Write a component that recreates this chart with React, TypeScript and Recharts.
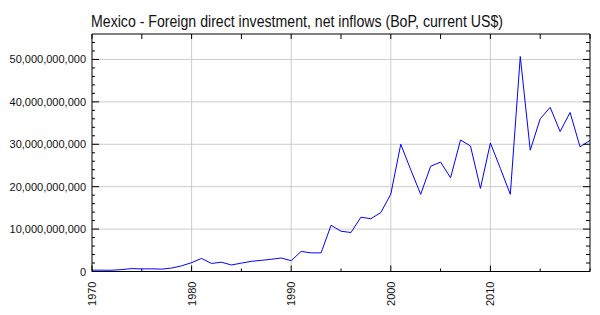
import React from "react";
import { LineChart, Line, XAxis, YAxis, CartesianGrid } from "recharts";

const title = "Mexico - Foreign direct investment, net inflows (BoP, current US$)";

const years = [
  1970, 1971, 1972, 1973, 1974, 1975, 1976, 1977, 1978, 1979,
  1980, 1981, 1982, 1983, 1984, 1985, 1986, 1987, 1988, 1989,
  1990, 1991, 1992, 1993, 1994, 1995, 1996, 1997, 1998, 1999,
  2000, 2001, 2002, 2003, 2004, 2005, 2006, 2007, 2008, 2009,
  2010, 2011, 2012, 2013, 2014, 2015, 2016, 2017, 2018, 2019, 2020,
];

const fdi = [
  0.32e9, 0.31e9, 0.30e9, 0.46e9, 0.68e9, 0.61e9, 0.63e9, 0.56e9, 0.82e9, 1.33e9,
  2.09e9, 3.08e9, 1.90e9, 2.19e9, 1.54e9, 1.98e9, 2.40e9, 2.63e9, 2.88e9, 3.18e9,
  2.55e9, 4.74e9, 4.39e9, 4.39e9, 10.9e9, 9.5e9, 9.19e9, 12.8e9, 12.45e9, 13.9e9,
  18.25e9, 30.0e9, 24.0e9, 18.2e9, 24.8e9, 25.8e9, 22.1e9, 31.0e9, 29.6e9, 19.6e9,
  30.3e9, 24.3e9, 18.2e9, 50.7e9, 28.6e9, 36.0e9, 38.7e9, 33.0e9, 37.5e9, 29.4e9, 30.9e9,
];

const xTicks = [1970, 1975, 1980, 1985, 1990, 1995, 2000, 2005, 2010, 2015, 2020];
const xLabels = [1970, 1980, 1990, 2000, 2010];
const yTicks = [
  0, 2e9, 4e9, 6e9, 8e9, 10e9, 12e9, 14e9, 16e9, 18e9, 20e9, 22e9, 24e9, 26e9, 28e9,
  30e9, 32e9, 34e9, 36e9, 38e9, 40e9, 42e9, 44e9, 46e9, 48e9, 50e9, 52e9, 54e9,
];
const yLabels = [0, 10e9, 20e9, 30e9, 40e9, 50e9];
const xGrid = [1980, 1990, 2000, 2010];
const yGrid = [10e9, 20e9, 30e9, 40e9, 50e9];

const data = years.map((y, i) => ({ year: y, value: fdi[i] }));

const FONT = "'Liberation Sans', Arial, sans-serif";

const BottomTick = (props: any) => {
  const { x, payload } = props;
  const v = payload.value;
  const y0 = 271.5;
  const major = xLabels.includes(v);
  return (
    <g>
      <line x1={x} y1={y0} x2={x} y2={y0 - (major ? 6 : 3)} stroke="#000" />
      {major && (
        <text
          x={x}
          y={y0 + 10}
          transform={`rotate(-90 ${x} ${y0 + 10})`}
          textAnchor="end"
          dominantBaseline="central"
          fontSize={11}
          fontFamily={FONT}
          fill="#111"
        >
          {v}
        </text>
      )}
    </g>
  );
};

const TopTick = (props: any) => {
  const { x } = props;
  const y0 = 34;
  return <line x1={x} y1={y0} x2={x} y2={y0 + 5} stroke="#000" />;
};

const LeftTick = (props: any) => {
  const { y, payload } = props;
  const v = payload.value;
  const x0 = 92;
  const major = yLabels.includes(v);
  return (
    <g>
      <line x1={x0} y1={y} x2={x0 + (major ? 7 : 3)} y2={y} stroke="#000" />
      {major && (
        <text
          x={x0 - 6}
          y={y}
          textAnchor="end"
          dominantBaseline="central"
          fontSize={11}
          fontFamily={FONT}
          fill="#111"
        >
          {v.toLocaleString("en-US")}
        </text>
      )}
    </g>
  );
};

const RightTick = (props: any) => {
  const { y, payload } = props;
  const x0 = 590;
  const major = yLabels.includes(payload.value);
  return <line x1={x0} y1={y} x2={x0 - (major ? 7 : 4)} y2={y} stroke="#000" />;
};

export default function App() {
  return (
    <div style={{ position: "absolute", left: 0, top: 0, width: 600, height: 315, background: "#fff" }}>
      <svg width={600} height={40} style={{ position: "absolute", left: 0, top: 0 }}>
        <text
          x={91}
          y={27}
          fontSize={16}
          fontFamily={FONT}
          fill="#111"
          textLength={412}
          lengthAdjust="spacingAndGlyphs"
        >
          {title}
        </text>
      </svg>
      <div style={{ position: "absolute", left: 0, top: 0 }}>
        <LineChart
          width={600}
          height={315}
          data={data}
          margin={{ top: 24, right: 0, bottom: 33.5, left: 82 }}
        >
          <CartesianGrid
            stroke="#cccccc"
            horizontalValues={yGrid}
            verticalValues={xGrid}
            strokeWidth={1}
          />
          <XAxis
            dataKey="year"
            type="number"
            domain={[1970, 2020]}
            ticks={xTicks}
            interval={0}
            height={10}
            tickSize={0}
            tickMargin={0}
            tickLine={false}
            axisLine={{ stroke: "#000" }}
            tick={<BottomTick />}
            allowDataOverflow
          />
          <XAxis
            xAxisId="top"
            orientation="top"
            dataKey="year"
            type="number"
            domain={[1970, 2020]}
            ticks={xTicks}
            interval={0}
            height={10}
            tickSize={0}
            tickMargin={0}
            tickLine={false}
            axisLine={{ stroke: "#000" }}
            tick={<TopTick />}
            allowDataOverflow
          />
          <YAxis
            type="number"
            domain={[0, 56e9]}
            ticks={yTicks}
            interval={0}
            width={10}
            tickSize={0}
            tickMargin={0}
            tickLine={false}
            axisLine={{ stroke: "#000" }}
            tick={<LeftTick />}
            allowDataOverflow
          />
          <YAxis
            yAxisId="right"
            orientation="right"
            type="number"
            domain={[0, 56e9]}
            ticks={yTicks}
            interval={0}
            width={10}
            tickSize={0}
            tickMargin={0}
            tickLine={false}
            axisLine={{ stroke: "#000" }}
            tick={<RightTick />}
            allowDataOverflow
          />
          <Line
            type="linear"
            dataKey="value"
            stroke="#0000ff"
            strokeWidth={1}
            dot={false}
            isAnimationActive={false}
          />
        </LineChart>
      </div>
    </div>
  );
}
